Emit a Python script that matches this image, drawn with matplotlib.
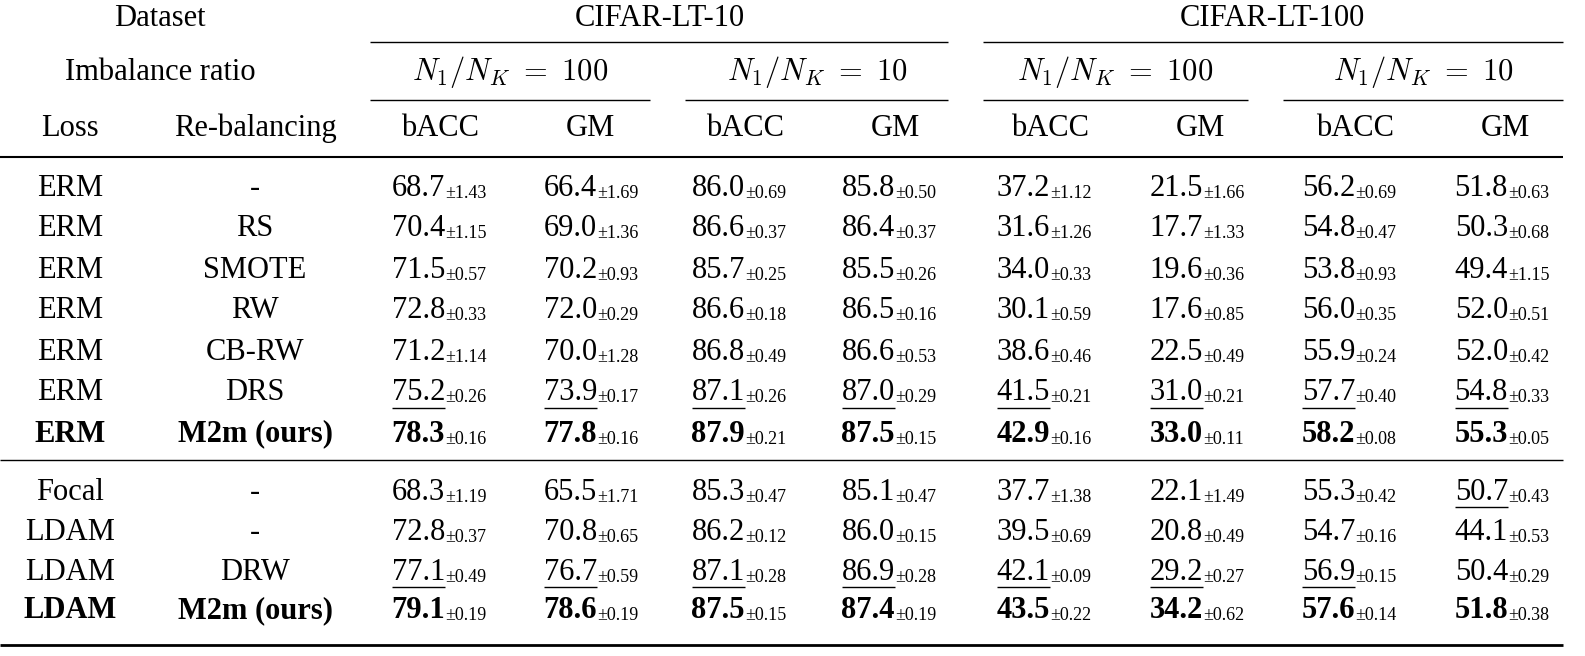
import matplotlib
matplotlib.use("Agg")
import matplotlib.pyplot as plt

plt.rcParams['font.family'] = ['Liberation Serif', 'DejaVu Serif']
plt.rcParams['mathtext.fontset'] = 'cm'

losses = ["ERM"]*7 + ["Focal", "LDAM", "LDAM", "LDAM"]
rebal = ["-", "RS", "SMOTE", "RW", "CB-RW", "DRS", "M2m (ours)", "-", "-", "DRW", "M2m (ours)"]
means = [
    [68.7, 66.4, 86.0, 85.8, 37.2, 21.5, 56.2, 51.8],
    [70.4, 69.0, 86.6, 86.4, 31.6, 17.7, 54.8, 50.3],
    [71.5, 70.2, 85.7, 85.5, 34.0, 19.6, 53.8, 49.4],
    [72.8, 72.0, 86.6, 86.5, 30.1, 17.6, 56.0, 52.0],
    [71.2, 70.0, 86.8, 86.6, 38.6, 22.5, 55.9, 52.0],
    [75.2, 73.9, 87.1, 87.0, 41.5, 31.0, 57.7, 54.8],
    [78.3, 77.8, 87.9, 87.5, 42.9, 33.0, 58.2, 55.3],
    [68.3, 65.5, 85.3, 85.1, 37.7, 22.1, 55.3, 50.7],
    [72.8, 70.8, 86.2, 86.0, 39.5, 20.8, 54.7, 44.1],
    [77.1, 76.7, 87.1, 86.9, 42.1, 29.2, 56.9, 50.4],
    [79.1, 78.6, 87.5, 87.4, 43.5, 34.2, 57.6, 51.8],
]
stds = [
    [1.43, 1.69, 0.69, 0.50, 1.12, 1.66, 0.69, 0.63],
    [1.15, 1.36, 0.37, 0.37, 1.26, 1.33, 0.47, 0.68],
    [0.57, 0.93, 0.25, 0.26, 0.33, 0.36, 0.93, 1.15],
    [0.33, 0.29, 0.18, 0.16, 0.59, 0.85, 0.35, 0.51],
    [1.14, 1.28, 0.49, 0.53, 0.46, 0.49, 0.24, 0.42],
    [0.26, 0.17, 0.26, 0.29, 0.21, 0.21, 0.40, 0.33],
    [0.16, 0.16, 0.21, 0.15, 0.16, 0.11, 0.08, 0.05],
    [1.19, 1.71, 0.47, 0.47, 1.38, 1.49, 0.42, 0.43],
    [0.37, 0.65, 0.12, 0.15, 0.69, 0.49, 0.16, 0.53],
    [0.49, 0.59, 0.28, 0.28, 0.09, 0.27, 0.15, 0.29],
    [0.19, 0.19, 0.15, 0.19, 0.22, 0.62, 0.14, 0.38],
]
bold_rows = [6, 10]
underlined = [(5, c) for c in range(8)] + [(9, c) for c in range(7)] + [(7, 7)]

W, H = 1585, 656
fig = plt.figure(figsize=(W/100, H/100), dpi=100)
ax = fig.add_axes([0, 0, 1, 1])
ax.set_xlim(0, W); ax.set_ylim(H, 0); ax.axis('off')

FS = 22
SFS = 13
colx = [445, 597, 745, 895, 1050, 1203, 1355, 1508]
row_y = [188, 221, 254, 287, 320, 353, 386, 491, 531, 571, 611]
row_y = [186, 218, 250, 282, 314, 346, 378, 434, 466, 498, 530]
row_y = [188, 229, 270, 311, 352, 393, 434, 492, 532, 572, 611]

def T(x, y, s, **kw):
    kw.setdefault('fontsize', FS)
    return ax.text(x, y, s, ha=kw.pop('ha', 'center'), va=kw.pop('va', 'center'), **kw)

T(160, 18, "Dataset"); T(660, 18, "CIFAR-LT-10"); T(1272, 18, "CIFAR-LT-100")
T(160, 72, "Imbalance ratio")
for x, r in zip([510, 817, 1115, 1423], ["100", "10", "100", "10"]):
    T(x, 72, r"$N_1/N_K\ =\ %s$" % r)
T(70, 128, "Loss"); T(255, 128, "Re-balancing")
for i, x in enumerate([440, 590, 745, 895, 1050, 1200, 1355, 1505]):
    T(x, 128, "bACC" if i % 2 == 0 else "GM")

def hl(x0, x1, y, lw):
    ax.plot([x0, x1], [y, y], color='black', lw=lw, solid_capstyle='butt')

hl(370, 948, 42, 1); hl(983, 1563, 42, 1)
for a, b in [(370, 650), (685, 948), (983, 1248), (1283, 1563)]:
    hl(a, b, 100, 1)
hl(0, 1563, 157, 1.5); hl(0, 1563, 460, 1); hl(0, 1563, 645, 2)

mains = []
for r in range(len(losses)):
    y = row_y[r]
    fw = 'bold' if r in bold_rows else 'normal'
    T(70, y, losses[r], fontweight=fw)
    T(255, y, rebal[r], fontweight=fw)
    for c in range(8):
        t = T(colx[c], y, "%.1f" % means[r][c], ha='right', fontweight=fw)
        T(colx[c], y + 5, "±%.2f" % stds[r][c], ha='left', fontsize=SFS)
        if (r, c) in underlined:
            mains.append((t, y))

fig.canvas.draw()
inv = ax.transData.inverted()
for t, y in mains:
    bb = t.get_window_extent()
    (x0, _), (x1, _) = inv.transform([[bb.x0, bb.y0], [bb.x1, bb.y1]])
    hl(x0, x1, y + 15, 1)

fig.savefig("out.png", dpi=100)
